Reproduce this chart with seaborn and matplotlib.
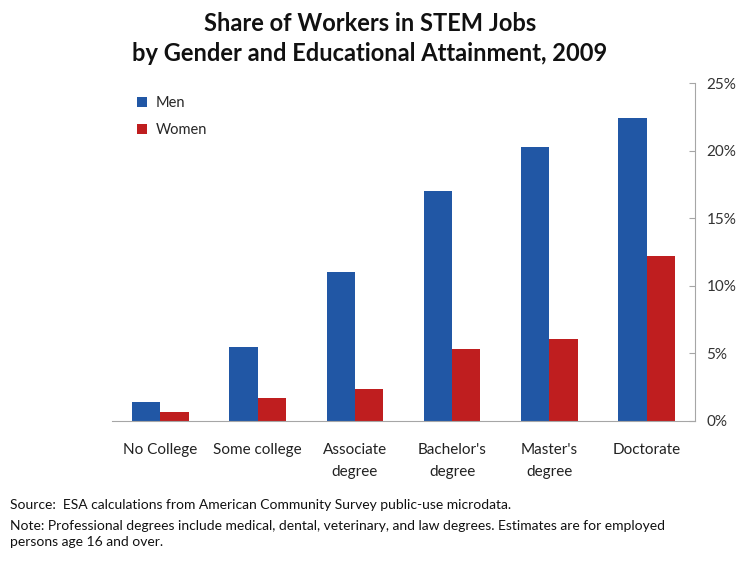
import matplotlib
matplotlib.use("Agg")
import matplotlib.pyplot as plt
import seaborn as sns
import pandas as pd
from matplotlib.ticker import FixedLocator

# --- data ---
categories = ["No College", "Some college", "Associate\ndegree", "Bachelor's\ndegree",
              "Master's\ndegree", "Doctorate"]
men = [1.4, 5.5, 11.0, 17.0, 20.3, 22.4]
women = [0.7, 1.7, 2.4, 5.3, 6.1, 12.2]
y_ticks = [0, 5, 10, 15, 20, 25]

df = pd.DataFrame({
    "category": categories * 2,
    "share": men + women,
    "gender": ["Men"] * len(men) + ["Women"] * len(women),
})

sns.set_style("white")
plt.rcParams["font.family"] = ["Lato", "DejaVu Sans"]

fig = plt.figure(figsize=(7.5, 5.61), dpi=100)
ax = fig.add_axes([0.149, 0.2496, 0.778, 0.6024])

sns.barplot(data=df, x="category", y="share", hue="gender", order=categories,
            palette={"Men": "#2157A5", "Women": "#BF1E1F"}, width=0.58,
            saturation=1, linewidth=0, ax=ax)

ax.set_xlim(-0.5, len(categories) - 0.5)
ax.set_ylim(0, 25)
ax.set_xlabel("")
ax.set_ylabel("")

# y axis on the right
for s in ["top", "left"]:
    ax.spines[s].set_visible(False)
ax.spines["right"].set_color("#A6A6A6")
ax.spines["bottom"].set_color("#A6A6A6")
ax.yaxis.tick_right()
ax.set_yticks(y_ticks)
ax.set_yticklabels([f"{t}%" for t in y_ticks], fontsize=11, color="#333333")
ax.tick_params(axis="y", which="major", direction="in", length=4, color="#A6A6A6", pad=8)

# category labels with tick marks at category boundaries
ax.tick_params(axis="x", which="major", length=0, pad=16, labelsize=11, labelcolor="#222222")
for lbl in ax.get_xticklabels():
    lbl.set_linespacing(1.7)
ax.xaxis.set_minor_locator(FixedLocator([i - 0.5 for i in range(len(categories) + 1)]))
ax.tick_params(axis="x", which="minor", direction="out", length=5, color="#A6A6A6")

leg = ax.legend(loc="upper left", bbox_to_anchor=(0.02, 1.0), frameon=False,
                fontsize=10.5, handlelength=0.7, handleheight=0.7, labelspacing=0.9,
                handletextpad=0.6)

fig.text(0.493, 0.978, "Share of Workers in STEM Jobs\nby Gender and Educational Attainment, 2009",
         ha="center", va="top", fontsize=17, fontweight="bold", linespacing=1.35,
         color="#111111")

fig.text(0.013, 0.099, "Source:  ESA calculations from American Community Survey public-use microdata.",
         ha="left", va="center", fontsize=10, color="#111111")
fig.text(0.013, 0.073, "Note: Professional degrees include medical, dental, veterinary, and law degrees. "
         "Estimates are for employed\npersons age 16 and over.",
         ha="left", va="top", fontsize=10, color="#111111", linespacing=1.4)

fig.savefig("out.png", dpi=100)
